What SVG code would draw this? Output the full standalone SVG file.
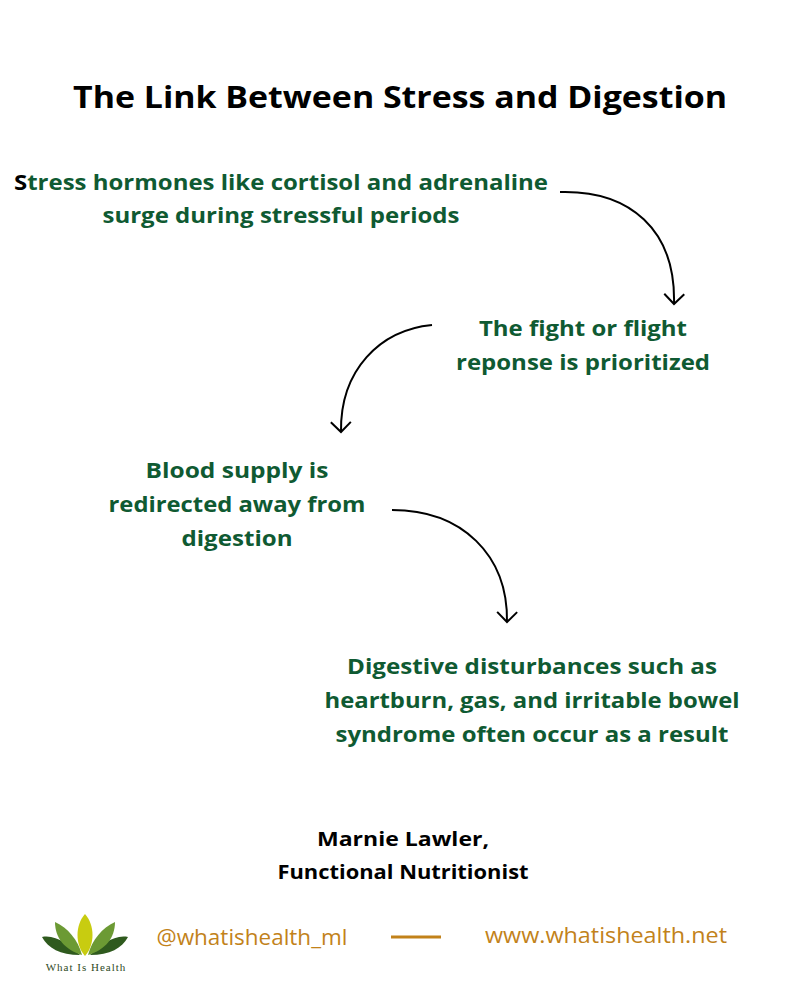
<svg xmlns="http://www.w3.org/2000/svg" width="800" height="1000" viewBox="0 0 800 1000">
<style>
text{font-family:"Open Sans",Lato,sans-serif;text-anchor:middle}
.t{font-weight:bold;font-size:22px;fill:#0f5a32}
.k{font-weight:bold;font-size:20px;fill:#000}
.g{font-size:21px;fill:#c2821a}
.c{fill:none;stroke:#000;stroke-width:2}
</style>
<defs><marker id="a" viewBox="0 0 24 24" refX="22" refY="12" markerWidth="24" markerHeight="24" markerUnits="userSpaceOnUse" orient="auto"><path d="M12,2 L22,12 L12,22" fill="none" stroke="#000" stroke-width="2"/></marker></defs>
<rect width="800" height="1000" fill="#fff"/>
<text x="400" y="108" font-weight="bold" font-size="31" fill="#000" textLength="654" lengthAdjust="spacingAndGlyphs">The Link Between Stress and Digestion</text>
<g id="n1"><text class="t" x="281" y="190" textLength="534" lengthAdjust="spacingAndGlyphs"><tspan fill="#000">S</tspan>tress hormones like cortisol and adrenaline</text><text class="t" x="281" y="223" textLength="357" lengthAdjust="spacingAndGlyphs">surge during stressful periods</text></g>
<g id="n2"><text class="t" x="583" y="336" textLength="208" lengthAdjust="spacingAndGlyphs">The fight or flight</text><text class="t" x="583" y="370" textLength="254" lengthAdjust="spacingAndGlyphs">reponse is prioritized</text></g>
<g id="n3"><text class="t" x="237" y="478" textLength="183" lengthAdjust="spacingAndGlyphs">Blood supply is</text><text class="t" x="237" y="512" textLength="257" lengthAdjust="spacingAndGlyphs">redirected away from</text><text class="t" x="237" y="546" textLength="111" lengthAdjust="spacingAndGlyphs">digestion</text></g>
<g id="n4"><text class="t" x="532" y="674" textLength="370" lengthAdjust="spacingAndGlyphs">Digestive disturbances such as</text><text class="t" x="532" y="708" textLength="415" lengthAdjust="spacingAndGlyphs">heartburn, gas, and irritable bowel</text><text class="t" x="532" y="742" textLength="393" lengthAdjust="spacingAndGlyphs">syndrome often occur as a result</text></g>
<g id="conn">
<path class="c" d="M560,192 C630,190 676,230 674,304" marker-end="url(#a)"/>
<path class="c" d="M432,325 C380,330 340,370 341,432" marker-end="url(#a)"/>
<path class="c" d="M392,510 C462,510 508,555 507,622" marker-end="url(#a)"/>
</g>
<g id="author"><text class="k" x="403" y="846" textLength="172" lengthAdjust="spacingAndGlyphs">Marnie Lawler,</text><text class="k" x="403" y="879" textLength="251" lengthAdjust="spacingAndGlyphs">Functional Nutritionist</text></g>
<g id="logo">
<path d="M42,937 C55,934 70,945 80,955 C60,955 48,948 42,937Z" fill="#2f5a1e"/>
<path d="M128,937 C115,934 100,945 90,955 C110,955 122,948 128,937Z" fill="#2f5a1e"/>
<path d="M55,922 C68,928 78,940 82,955 C65,950 55,938 55,922Z" fill="#6c9a34"/>
<path d="M115,922 C102,928 92,940 88,955 C105,950 115,938 115,922Z" fill="#6c9a34"/>
<path d="M85,914 C95,925 95,945 85,956 C75,945 75,925 85,914Z" fill="#c8cc10"/>
<text x="86" y="971" style="font-family:'Liberation Serif',serif" font-size="11" fill="#2f4a1e" letter-spacing="1">What Is Health</text>
</g>
<g id="footer"><text class="g" x="252" y="945" textLength="191" lengthAdjust="spacingAndGlyphs">@whatishealth_ml</text><line x1="391" y1="937" x2="441" y2="937" stroke="#c2821a" stroke-width="3"/><text class="g" x="606" y="943" textLength="242" lengthAdjust="spacingAndGlyphs">www.whatishealth.net</text></g>
</svg>
